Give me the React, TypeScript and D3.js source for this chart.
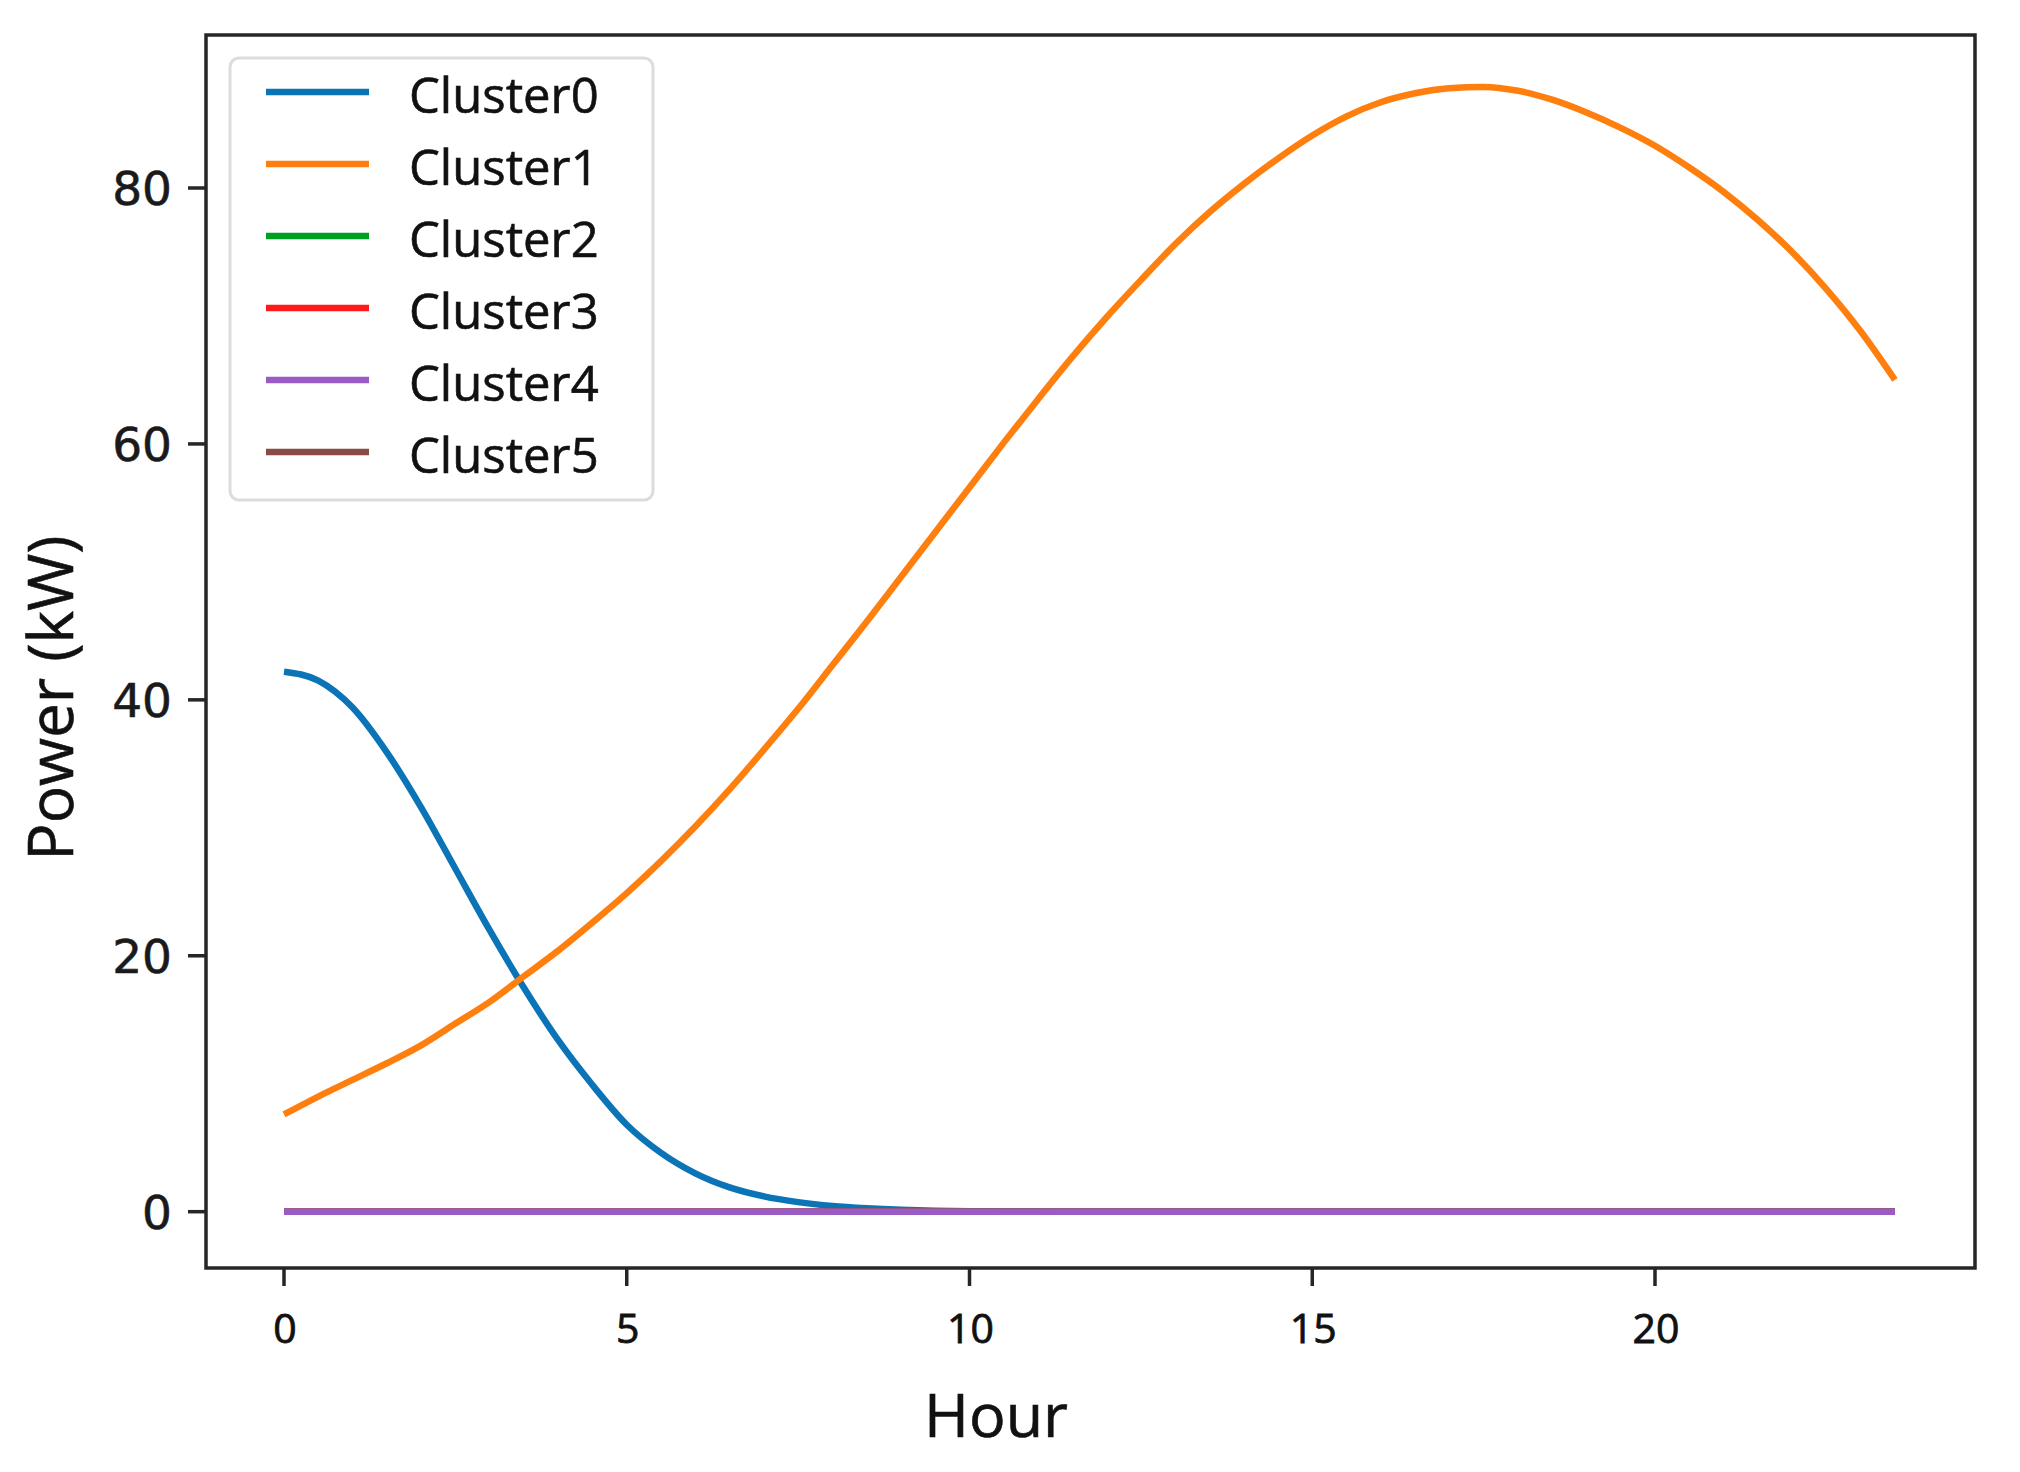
import React, { useEffect, useRef } from 'react';
import * as d3 from 'd3';

const WIDTH = 2020;
const HEIGHT = 1472;

// half-hourly samples
const hours = [
  0, 0.5, 1, 1.5, 2, 2.5, 3, 3.5, 4, 4.5, 5, 5.5, 6, 6.5, 7, 7.5, 8, 8.5, 9, 9.5, 10, 10.5, 11, 11.5,
  12, 12.5, 13, 13.5, 14, 14.5, 15, 15.5, 16, 16.5, 17, 17.5, 18, 18.5, 19, 19.5, 20, 20.5, 21, 21.5,
  22, 22.5, 23, 23.5,
];

const cluster0 = [
  42.2, 41.5, 39.4, 35.9, 31.6, 26.8, 22.0, 17.5, 13.4, 9.9, 6.8, 4.6, 3.0, 1.9, 1.2, 0.75, 0.45, 0.27,
  0.15, 0.08, 0.04, 0.02, 0.01, 0, 0, 0, 0, 0, 0, 0, 0, 0, 0, 0, 0, 0, 0, 0, 0, 0, 0, 0, 0, 0, 0, 0, 0, 0,
];
const cluster1 = [
  7.6, 9.0, 10.3, 11.6, 13.0, 14.7, 16.4, 18.4, 20.4, 22.6, 24.9, 27.4, 30.1, 33.0, 36.1, 39.3, 42.7,
  46.1, 49.6, 53.1, 56.6, 60.1, 63.5, 66.8, 69.9, 72.8, 75.6, 78.1, 80.3, 82.3, 84.1, 85.6, 86.7, 87.4,
  87.8, 87.9, 87.6, 86.9, 85.9, 84.7, 83.3, 81.6, 79.7, 77.5, 75.0, 72.1, 68.8, 65.0,
];
const cluster2 = [
  0, 0, 0, 0, 0, 0, 0, 0, 0, 0, 0, 0, 0, 0, 0, 0, 0, 0, 0, 0, 0, 0, 0, 0,
  0, 0, 0, 0, 0, 0, 0, 0, 0, 0, 0, 0, 0, 0, 0, 0, 0, 0, 0, 0, 0, 0, 0, 0,
];
const cluster3 = [
  0, 0, 0, 0, 0, 0, 0, 0, 0, 0, 0, 0, 0, 0, 0, 0, 0, 0, 0, 0, 0, 0, 0, 0,
  0, 0, 0, 0, 0, 0, 0, 0, 0, 0, 0, 0, 0, 0, 0, 0, 0, 0, 0, 0, 0, 0, 0, 0,
];
const cluster4 = [
  0, 0, 0, 0, 0, 0, 0, 0, 0, 0, 0, 0, 0, 0, 0, 0, 0, 0, 0, 0, 0, 0, 0, 0,
  0, 0, 0, 0, 0, 0, 0, 0, 0, 0, 0, 0, 0, 0, 0, 0, 0, 0, 0, 0, 0, 0, 0, 0,
];
const cluster5 = [
  0, 0, 0, 0, 0, 0, 0, 0, 0, 0, 0, 0, 0, 0, 0, 0, 0, 0, 0, 0, 0, 0, 0, 0,
  0, 0, 0, 0, 0, 0, 0, 0, 0, 0, 0, 0, 0, 0, 0, 0, 0, 0, 0, 0, 0, 0, 0, 0,
];

const clusterNames = ['Cluster0', 'Cluster1', 'Cluster2', 'Cluster3', 'Cluster4', 'Cluster5'];
const clusterValues = [cluster0, cluster1, cluster2, cluster3, cluster4, cluster5];
const clusterColors = ['#0a74b6', '#ff7f0e', '#00a020', '#ff1a1a', '#9a5cc4', '#8c4b42'];
// purple ends up on top of the flat zero lines
const drawOrder = [0, 1, 2, 3, 5, 4];

const xTicks = [0, 5, 10, 15, 20];
const yTicks = [0, 20, 40, 60, 80];

export default function App() {
  const ref = useRef<SVGSVGElement>(null);

  useEffect(() => {
    const svg = d3.select(ref.current);
    svg.selectAll('*').remove();

    const frame = { left: 206, right: 1975, top: 35, bottom: 1268 };
    const x = d3.scaleLinear().domain([0, 20]).range([284, 1655]);
    const y = d3.scaleLinear().domain([0, 80]).range([1211.7, 188]);

    svg.append('rect').attr('width', WIDTH).attr('height', HEIGHT).attr('fill', '#fff');

    // series
    const line = d3
      .line<number>()
      .x((_, i) => x(hours[i]))
      .y((d) => y(d))
      .curve(d3.curveMonotoneX);

    drawOrder.forEach((k) => {
      svg
        .append('path')
        .attr('d', line(clusterValues[k]))
        .attr('fill', 'none')
        .attr('stroke', clusterColors[k])
        .attr('stroke-width', 6.5)
        .attr('stroke-linejoin', 'round')
        .attr('stroke-linecap', 'butt');
    });

    // frame
    svg
      .append('rect')
      .attr('x', frame.left)
      .attr('y', frame.top)
      .attr('width', frame.right - frame.left)
      .attr('height', frame.bottom - frame.top)
      .attr('fill', 'none')
      .attr('stroke', '#262626')
      .attr('stroke-width', 3.5);

    // y ticks
    const yg = svg.append('g');
    yTicks.forEach((t) => {
      yg.append('line')
        .attr('x1', frame.left - 18)
        .attr('x2', frame.left)
        .attr('y1', y(t))
        .attr('y2', y(t))
        .attr('stroke', '#262626')
        .attr('stroke-width', 3.5);
      yg.append('text')
        .attr('x', 172)
        .attr('y', y(t))
        .attr('dy', '0.36em')
        .attr('text-anchor', 'end')
        .attr('font-family', 'DejaVu Sans')
        .attr('font-size', 47)
        .attr('fill', '#1a1a1a')
        .attr('stroke', '#1a1a1a')
        .attr('stroke-width', 0.6)
        .text(String(t));
    });

    // x ticks
    const xg = svg.append('g');
    xTicks.forEach((t) => {
      xg.append('line')
        .attr('x1', x(t))
        .attr('x2', x(t))
        .attr('y1', frame.bottom)
        .attr('y2', frame.bottom + 18)
        .attr('stroke', '#262626')
        .attr('stroke-width', 3.5);
      xg.append('text')
        .attr('x', x(t) + 1)
        .attr('y', 1343)
        .attr('text-anchor', 'middle')
        .attr('font-family', 'Open Sans')
        .attr('font-size', 41)
        .attr('fill', '#111')
        .attr('stroke', '#111')
        .attr('stroke-width', 0.8)
        .text(String(t));
    });

    // axis titles
    svg
      .append('text')
      .attr('x', 996)
      .attr('y', 1437)
      .attr('text-anchor', 'middle')
      .attr('font-family', 'Open Sans')
      .attr('font-size', 61)
      .attr('fill', '#111')
      .attr('stroke', '#111')
      .attr('stroke-width', 0.6)
      .text('Hour');
    svg
      .append('text')
      .attr('transform', 'translate(73, 698) rotate(-90)')
      .attr('text-anchor', 'middle')
      .attr('font-family', 'Open Sans')
      .attr('font-size', 62)
      .attr('fill', '#111')
      .attr('stroke', '#111')
      .attr('stroke-width', 0.6)
      .text('Power (kW)');

    // legend
    const lg = svg.append('g');
    lg.append('rect')
      .attr('x', 230)
      .attr('y', 58)
      .attr('width', 423)
      .attr('height', 442)
      .attr('rx', 9)
      .attr('fill', '#fff')
      .attr('stroke', '#dcdcdc')
      .attr('stroke-width', 3);
    clusterNames.forEach((name, i) => {
      const ly = 92 + i * 72;
      lg.append('line')
        .attr('x1', 266)
        .attr('x2', 369)
        .attr('y1', ly)
        .attr('y2', ly)
        .attr('stroke', clusterColors[i])
        .attr('stroke-width', 6.5);
      lg.append('text')
        .attr('x', 409)
        .attr('y', ly + 21)
        .attr('font-family', 'Open Sans')
        .attr('font-size', 49)
        .attr('fill', '#111')
        .attr('stroke', '#111')
        .attr('stroke-width', 0.6)
        .text(name);
    });
  }, []);

  return (
    <svg
      ref={ref}
      width={WIDTH}
      height={HEIGHT}
      style={{ position: 'absolute', left: 0, top: 0, display: 'block' }}
    />
  );
}
